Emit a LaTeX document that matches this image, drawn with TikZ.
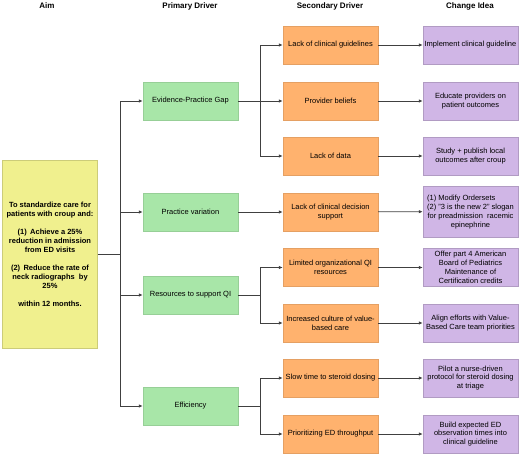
\documentclass[tikz,border=0pt]{standalone}
\usepackage{fontspec}
\setmainfont{Liberation Sans}
\usetikzlibrary{arrows.meta}
\definecolor{aimyellow}{RGB}{240,240,142}
\definecolor{drivergreen}{RGB}{168,230,168}
\definecolor{secorange}{RGB}{255,178,110}
\definecolor{ideapurple}{RGB}{208,182,230}
\begin{document}
\begin{tikzpicture}[x=1pt,y=-1pt,
    header/.style ={font=\fontsize{8}{9}\selectfont\bfseries},
    aimbox/.style ={draw=aimyellow!85!black, fill=aimyellow, minimum width=95pt, minimum height=188pt,
        align=center, font=\fontsize{7.5}{9}\selectfont\bfseries, inner sep=1pt},
    primary/.style ={draw=drivergreen!90!black, fill=drivergreen, minimum width=95pt, minimum height=38pt,
        align=center, font=\fontsize{7.5}{8.8}\selectfont, inner sep=1pt},
    secondary/.style ={draw=secorange!90!black, fill=secorange, minimum width=95pt, minimum height=38pt,
        align=center, font=\fontsize{7.5}{8.8}\selectfont, inner sep=1pt},
    changeidea/.style ={draw=ideapurple!85!black, fill=ideapurple, minimum width=95pt, minimum height=38pt,
        align=center, font=\fontsize{7.5}{8.8}\selectfont, inner sep=1pt},
    link/.style ={draw=black!75, line width=0.8pt},
    arr/.style ={link, -{Latex[length=4pt,width=3.5pt]}}]
   \useasboundingbox (0,0) rectangle (520,455);
   % column titles
   \node[header] (hAim) at (47,6) {Aim};
   \node[header] (hPrim) at (190,6) {Primary Driver};
   \node[header] (hSec) at (330,6) {Secondary Driver};
   \node[header] (hIdea) at (470,6) {Change Idea};
   % aim
   \node[aimbox] (aim) at (50,254) {To standardize care for\\patients with croup and:\\[9pt]
      (1)\ \,Achieve a 25\%\\reduction in admission\\from ED visits\\[9pt]
      (2)\ \,Reduce the rate of\\neck radiographs\ \ by\\25\%\\[9pt]within 12 months.};
   % primary drivers
   \node[primary] (gap) at (190.5,101) {Evidence-Practice Gap};
   \node[primary] (variation) at (190.5,212) {Practice variation};
   \node[primary] (resources) at (190.5,295) {Resources to support QI};
   \node[primary] (efficiency) at (190.5,406) {Efficiency};
   % secondary drivers
   \node[secondary] (guidelines) at (330.5,45) {Lack of clinical guidelines};
   \node[secondary] (beliefs) at (330.5,101) {Provider beliefs};
   \node[secondary] (data) at (330.5,156) {Lack of data};
   \node[secondary] (decision) at (330.5,212) {Lack of clinical decision\\support};
   \node[secondary] (orgqi) at (330.5,267.5) {Limited organizational QI\\resources};
   \node[secondary] (culture) at (330.5,323) {Increased culture of value-\\based care};
   \node[secondary] (steroid) at (330.5,378) {Slow time to steroid dosing};
   \node[secondary] (throughput) at (330.5,434) {Prioritizing ED throughput};
   % change ideas
   \node[changeidea] (implement) at (470.5,45) {Implement clinical guideline};
   \node[changeidea] (educate) at (470.5,101) {Educate providers on\\patient outcomes};
   \node[changeidea] (publish) at (470.5,156) {Study + publish local\\outcomes after croup};
   \node[changeidea, minimum height=51pt] (ordersets) at (470.5,211.5)
      {\begin{tabular}{@{}l@{}}(1)\ Modify Ordersets\\(2)\ "3 is the new 2" slogan\end{tabular}\\for preadmission\ \ racemic\\epinephrine};
   \node[changeidea] (abp) at (470.5,267.5) {Offer part 4 American\\Board of Pediatrics\\Maintenance of\\Certification credits};
   \node[changeidea] (align) at (470.5,323) {Align efforts with Value-\\Based Care team priorities};
   \node[changeidea] (nurse) at (470.5,378) {Pilot a nurse-driven\\protocol for steroid dosing\\at triage};
   \node[changeidea] (obstimes) at (470.5,434) {Build expected ED\\observation times into\\clinical guideline};
   % aim to primary drivers
   \draw[link] (aim.east) -- ++(23,0) coordinate (trunk);
   \draw[arr] (trunk) |- (gap.west);
   \draw[arr] (trunk) |- (variation.west);
   \draw[arr] (trunk) |- (resources.west);
   \draw[arr] (trunk) |- (efficiency.west);
   % primary to secondary drivers
   \draw[arr] (gap.east) -- ++(22,0) |- (guidelines.west);
   \draw[arr] (gap.east) -- (beliefs.west);
   \draw[arr] (gap.east) -- ++(22,0) |- (data.west);
   \draw[arr] (variation.east) -- (decision.west);
   \draw[arr] (resources.east) -- ++(22,0) |- (orgqi.west);
   \draw[arr] (resources.east) -- ++(22,0) |- (culture.west);
   \draw[arr] (efficiency.east) -- ++(22,0) |- (steroid.west);
   \draw[arr] (efficiency.east) -- ++(22,0) |- (throughput.west);
   % secondary drivers to change ideas
   \draw[arr] (guidelines) -- (implement);
   \draw[arr] (beliefs) -- (educate);
   \draw[arr] (data) -- (publish);
   \draw[arr] (decision) -- (ordersets);
   \draw[arr] (orgqi) -- (abp);
   \draw[arr] (culture) -- (align);
   \draw[arr] (steroid) -- (nurse);
   \draw[arr] (throughput) -- (obstimes);
\end{tikzpicture}
\end{document}
